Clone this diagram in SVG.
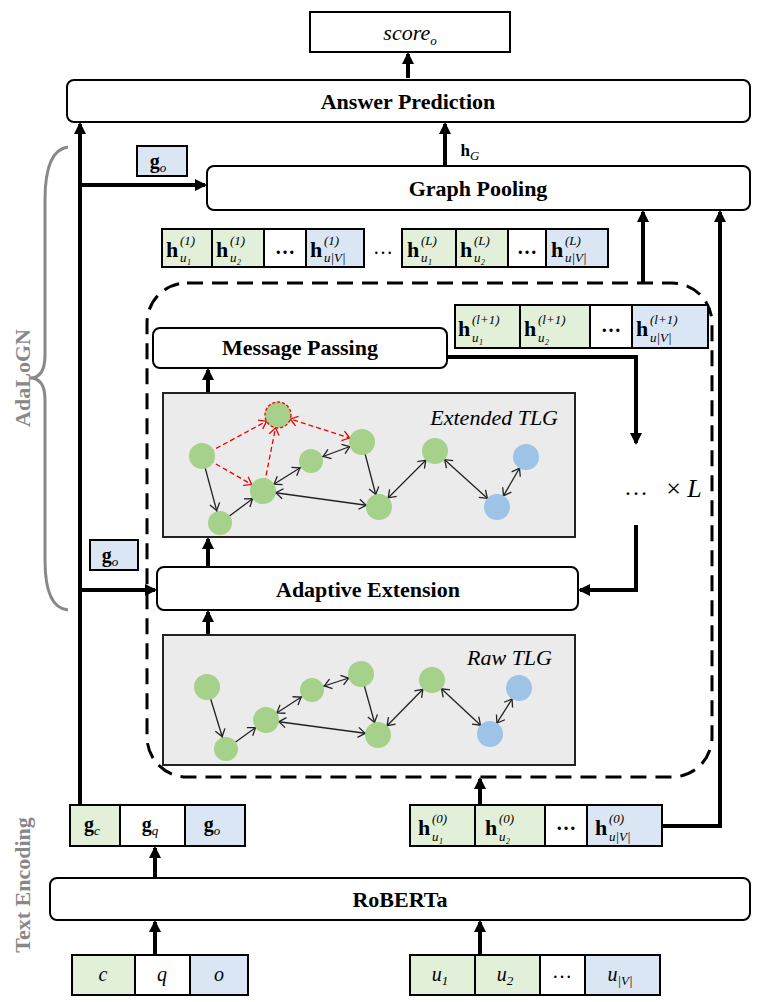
<svg xmlns="http://www.w3.org/2000/svg" width="765" height="1002" viewBox="0 0 765 1002">
<style>
.b{fill:#fff;stroke:#000;stroke-width:2}
.g{fill:#e2efd9;stroke:#000;stroke-width:2}
.bl{fill:#dae6f3;stroke:#000;stroke-width:2}
.w{fill:#fff;stroke:#000;stroke-width:2}
.t{font-family:'Liberation Serif',serif;font-weight:bold;font-size:22px;text-anchor:middle}
.m{font-family:'Liberation Serif',serif;font-size:20px;text-anchor:middle}
.h{font-family:'Liberation Serif',serif;font-size:22px;font-weight:bold}
.p{font-family:'Liberation Serif',serif;font-size:13px;font-style:italic}
.i{font-style:italic;font-weight:normal}
.hb{font-weight:bold}
.s{font-size:13px}
.th{stroke:#000;stroke-width:4;fill:none}
.e{stroke:#222;stroke-width:1.3;fill:none}
.r{stroke:#e00;stroke-width:1.3;fill:none;stroke-dasharray:5,3}
.gn{fill:#a6d18a}
.bn{fill:#9dc3e6}
</style>
<defs>
<marker id="A" markerUnits="userSpaceOnUse" markerWidth="14" markerHeight="14" refX="10" refY="7" orient="auto"><path d="M0,1 L12,7 L0,13 z" fill="#000"/></marker>
<marker id="a" markerUnits="userSpaceOnUse" markerWidth="30" markerHeight="14" refX="22" refY="7" orient="auto-start-reverse"><path d="M2,2 L9,7 L2,12" fill="none" stroke="#222" stroke-width="1.3"/></marker>
<marker id="ar" markerUnits="userSpaceOnUse" markerWidth="30" markerHeight="14" refX="22" refY="7" orient="auto-start-reverse"><path d="M2,2 L9,7 L2,12" fill="none" stroke="#e00" stroke-width="1.3"/></marker>
</defs>

<g id="connectors">
<path class="th" d="M408,78 V54" marker-end="url(#A)"/>
<path class="th" d="M80,805 V124" marker-end="url(#A)"/>
<path class="th" d="M80,185 H205" marker-end="url(#A)"/>
<path class="th" d="M80,590 H155" marker-end="url(#A)"/>
<path class="th" d="M445,166 V124" marker-end="url(#A)"/>
<path class="th" d="M643,283 V212" marker-end="url(#A)"/>
<path class="th" d="M662,826 H720 V212" marker-end="url(#A)"/>
<path class="th" d="M447,357 H636 V443" marker-end="url(#A)"/>
<path class="th" d="M636,525 V590 H580" marker-end="url(#A)"/>
<path class="th" d="M208,393 V370" marker-end="url(#A)"/>
<path class="th" d="M208,567 V539" marker-end="url(#A)"/>
<path class="th" d="M208,635 V612" marker-end="url(#A)"/>
<path class="th" d="M155,878 V848" marker-end="url(#A)"/>
<path class="th" d="M155,955 V922" marker-end="url(#A)"/>
<path class="th" d="M480,955 V922" marker-end="url(#A)"/>
<path class="th" d="M480,805 V779" marker-end="url(#A)"/>
</g>

<g id="score"><rect class="b" x="310" y="12" width="200" height="40"/><text class="m i" x="410" y="40" style="font-size:22px">score<tspan class="s" dy="5">o</tspan></text></g>
<g id="answer"><rect class="b" x="67" y="80" width="683" height="42" rx="7"/><text class="t" x="408" y="109">Answer Prediction</text></g>
<text class="m hb" x="470" y="156" style="font-size:17px">h<tspan class="s i" dy="4">G</tspan></text>
<g id="go1"><rect class="bl" x="137" y="146" width="50" height="30"/><text class="m hb" x="158" y="168">g<tspan class="s i" dy="4">o</tspan></text></g>
<g id="pool"><rect class="b" x="207" y="166" width="543" height="44" rx="7"/><text class="t" x="478" y="196">Graph Pooling</text></g>

<g id="hrow1">
<rect class="g" x="162" y="229" width="50" height="38"/><rect class="g" x="212" y="229" width="52" height="38"/><rect class="w" x="264" y="229" width="42" height="38"/><rect class="bl" x="306" y="229" width="58" height="38"/>
<text class="h" x="166" y="257">h</text><text class="p" x="180" y="245">(1)</text><text class="p" x="180" y="262">u₁</text>
<text class="h" x="216" y="257">h</text><text class="p" x="230" y="245">(1)</text><text class="p" x="230" y="262">u₂</text>
<text class="m hb" x="285" y="254">…</text>
<text class="h" x="310" y="257">h</text><text class="p" x="324" y="245">(1)</text><text class="p" x="324" y="262">u|V|</text>
<text class="m" x="383" y="254">…</text>
<rect class="g" x="402" y="229" width="54" height="38"/><rect class="g" x="456" y="229" width="52" height="38"/><rect class="w" x="508" y="229" width="38" height="38"/><rect class="bl" x="546" y="229" width="62" height="38"/>
<text class="h" x="407" y="257">h</text><text class="p" x="421" y="245">(L)</text><text class="p" x="421" y="262">u₁</text>
<text class="h" x="460" y="257">h</text><text class="p" x="474" y="245">(L)</text><text class="p" x="474" y="262">u₂</text>
<text class="m hb" x="527" y="254">…</text>
<text class="h" x="551" y="257">h</text><text class="p" x="565" y="245">(L)</text><text class="p" x="565" y="262">u|V|</text>
</g>

<rect id="loop" x="147" y="283" width="565" height="494" rx="40" fill="none" stroke="#000" stroke-width="3" stroke-dasharray="16,9"/>

<g id="hrowl">
<rect class="g" x="455" y="305" width="65" height="43"/><rect class="g" x="520" y="305" width="70" height="43"/><rect class="w" x="590" y="305" width="42" height="43"/><rect class="bl" x="632" y="305" width="76" height="43"/>
<text class="h" x="458" y="336">h</text><text class="p" x="472" y="324">(l+1)</text><text class="p" x="472" y="342">u₁</text>
<text class="h" x="524" y="336">h</text><text class="p" x="538" y="324">(l+1)</text><text class="p" x="538" y="342">u₂</text>
<text class="m hb" x="611" y="332">…</text>
<text class="h" x="636" y="336">h</text><text class="p" x="650" y="324">(l+1)</text><text class="p" x="650" y="342">u|V|</text>
</g>

<g id="mp"><rect class="b" x="153" y="328" width="294" height="40" rx="7"/><text class="t" x="300" y="355">Message Passing</text></g>
<text class="m" x="636" y="495" style="font-size:24px">…</text>
<text class="m" x="684" y="497" style="font-size:26px">× <tspan class="i">L</tspan></text>

<g id="ext">
<rect x="163" y="393" width="412" height="144" fill="#ebebeb" stroke="#222" stroke-width="2"/>
<text class="m i" x="558" y="425" style="text-anchor:end;font-size:22px">Extended TLG</text>
<line class="e" x1="202" y1="456" x2="220" y2="523" marker-end="url(#a)"/>
<line class="e" x1="220" y1="523" x2="263" y2="491" marker-end="url(#a)"/>
<line class="e" x1="263" y1="491" x2="311" y2="461" marker-start="url(#a)" marker-end="url(#a)"/>
<line class="e" x1="311" y1="461" x2="362" y2="442" marker-start="url(#a)" marker-end="url(#a)"/>
<line class="e" x1="362" y1="442" x2="379" y2="507" marker-end="url(#a)"/>
<line class="e" x1="263" y1="491" x2="379" y2="507" marker-start="url(#a)" marker-end="url(#a)"/>
<line class="e" x1="379" y1="507" x2="435" y2="451" marker-start="url(#a)" marker-end="url(#a)"/>
<line class="e" x1="435" y1="451" x2="497" y2="507" marker-start="url(#a)" marker-end="url(#a)"/>
<line class="e" x1="497" y1="507" x2="526" y2="457" marker-start="url(#a)" marker-end="url(#a)"/>
<line class="r" x1="202" y1="456" x2="278" y2="415" marker-end="url(#ar)"/>
<line class="r" x1="202" y1="456" x2="263" y2="491" marker-end="url(#ar)"/>
<line class="r" x1="263" y1="491" x2="278" y2="415" marker-end="url(#ar)"/>
<line class="r" x1="278" y1="415" x2="362" y2="442" marker-start="url(#ar)" marker-end="url(#ar)"/>
<circle class="gn" cx="202" cy="456" r="13"/><circle class="gn" cx="220" cy="523" r="12"/><circle class="gn" cx="263" cy="491" r="13"/><circle class="gn" cx="311" cy="461" r="12"/><circle class="gn" cx="362" cy="442" r="13"/><circle class="gn" cx="379" cy="507" r="13"/><circle class="gn" cx="435" cy="451" r="13"/><circle class="bn" cx="497" cy="507" r="13"/><circle class="bn" cx="526" cy="457" r="13"/>
<circle class="gn" cx="278" cy="415" r="13" stroke="#e00" stroke-width="1.3" stroke-dasharray="3,2"/>
</g>

<g id="go2"><rect class="bl" x="90" y="540" width="48" height="30"/><text class="m hb" x="110" y="562">g<tspan class="s i" dy="4">o</tspan></text></g>
<g id="adapt"><rect class="b" x="157" y="567" width="421" height="43" rx="7"/><text class="t" x="368" y="597">Adaptive Extension</text></g>

<g id="raw">
<rect x="163" y="635" width="412" height="130" fill="#ebebeb" stroke="#222" stroke-width="2"/>
<text class="m i" x="552" y="665" style="text-anchor:end;font-size:22px">Raw TLG</text>
<line class="e" x1="207" y1="687" x2="226" y2="749" marker-end="url(#a)"/>
<line class="e" x1="226" y1="749" x2="266" y2="720" marker-end="url(#a)"/>
<line class="e" x1="266" y1="720" x2="312" y2="690" marker-start="url(#a)" marker-end="url(#a)"/>
<line class="e" x1="312" y1="690" x2="361" y2="674" marker-start="url(#a)" marker-end="url(#a)"/>
<line class="e" x1="361" y1="674" x2="378" y2="735" marker-end="url(#a)"/>
<line class="e" x1="266" y1="720" x2="378" y2="735" marker-start="url(#a)" marker-end="url(#a)"/>
<line class="e" x1="378" y1="735" x2="432" y2="680" marker-start="url(#a)" marker-end="url(#a)"/>
<line class="e" x1="432" y1="680" x2="490" y2="734" marker-start="url(#a)" marker-end="url(#a)"/>
<line class="e" x1="490" y1="734" x2="519" y2="688" marker-start="url(#a)" marker-end="url(#a)"/>
<circle class="gn" cx="207" cy="687" r="13"/><circle class="gn" cx="226" cy="749" r="12"/><circle class="gn" cx="266" cy="720" r="13"/><circle class="gn" cx="312" cy="690" r="12"/><circle class="gn" cx="361" cy="674" r="13"/><circle class="gn" cx="378" cy="735" r="13"/><circle class="gn" cx="432" cy="680" r="13"/><circle class="bn" cx="490" cy="734" r="13"/><circle class="bn" cx="519" cy="688" r="13"/>
</g>

<path d="M68,147 Q45,150 45,200 V355 Q45,378 30,378 Q45,378 45,400 V560 Q45,608 68,610" fill="none" stroke="#888" stroke-width="3"/>
<text class="t" transform="translate(30,378) rotate(-90)" fill="#888" style="font-size:22px">AdaLoGN</text>
<text class="t" transform="translate(30,885) rotate(-90)" fill="#888" style="font-size:22px">Text Encoding</text>

<g id="grow">
<rect class="g" x="70" y="805" width="50" height="41"/><rect class="w" x="120" y="805" width="65" height="41"/><rect class="bl" x="185" y="805" width="60" height="41"/>
<text class="m hb" x="92" y="831">g<tspan class="s i" dy="4">c</tspan></text>
<text class="m hb" x="150" y="831">g<tspan class="s i" dy="4">q</tspan></text>
<text class="m hb" x="212" y="831">g<tspan class="s i" dy="4">o</tspan></text>
</g>
<g id="h0row">
<rect class="g" x="410" y="805" width="65" height="41"/><rect class="g" x="475" y="805" width="70" height="41"/><rect class="w" x="545" y="805" width="42" height="41"/><rect class="bl" x="587" y="805" width="75" height="41"/>
<text class="h" x="418" y="835">h</text><text class="p" x="432" y="823">(0)</text><text class="p" x="432" y="841">u₁</text>
<text class="h" x="485" y="835">h</text><text class="p" x="499" y="823">(0)</text><text class="p" x="499" y="841">u₂</text>
<text class="m hb" x="566" y="830">…</text>
<text class="h" x="595" y="835">h</text><text class="p" x="609" y="823">(0)</text><text class="p" x="609" y="841">u|V|</text>
</g>
<g id="roberta"><rect class="b" x="50" y="878" width="700" height="42" rx="7"/><text class="t" x="400" y="907">RoBERTa</text></g>
<g id="inrow">
<rect class="g" x="72" y="955" width="63" height="40"/><rect class="w" x="135" y="955" width="55" height="40"/><rect class="bl" x="190" y="955" width="58" height="40"/>
<text class="m i" x="103" y="981">c</text><text class="m i" x="162" y="981">q</text><text class="m i" x="219" y="981">o</text>
<rect class="g" x="410" y="955" width="65" height="40"/><rect class="g" x="475" y="955" width="65" height="40"/><rect class="w" x="540" y="955" width="45" height="40"/><rect class="bl" x="585" y="955" width="75" height="40"/>
<text class="m i" x="440" y="981">u<tspan class="s" dy="4">1</tspan></text><text class="m i" x="505" y="981">u<tspan class="s" dy="4">2</tspan></text><text class="m" x="562" y="978">…</text><text class="m i" x="620" y="981">u<tspan class="s" dy="4">|V|</tspan></text>
</g>
</svg>
